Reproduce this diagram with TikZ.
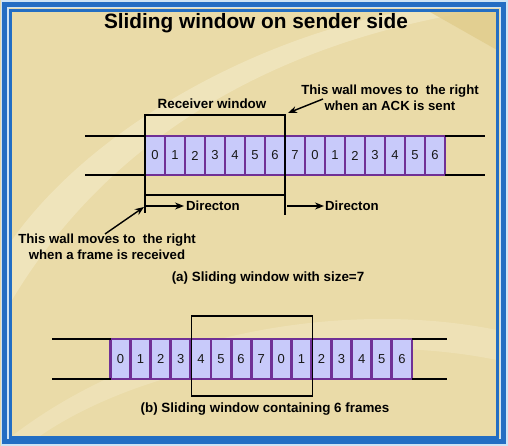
\documentclass[tikz,border=0pt]{standalone}
\usepackage{fontspec}
\setmainfont{Liberation Sans}
\usetikzlibrary{arrows.meta}
\definecolor{bg}{RGB}{234,219,168}
\definecolor{bglight}{RGB}{242,232,196}
\definecolor{bgdark}{RGB}{224,204,140}
\definecolor{frameblue}{RGB}{35,110,195}
\definecolor{framelight}{RGB}{205,228,245}
\definecolor{cellfill}{RGB}{200,202,250}
\definecolor{cellborder}{RGB}{112,48,150}
\begin{document}
\begin{tikzpicture}[x=1pt,y=-1pt,
  cell/.style={draw=cellborder, line width=2.8pt, fill=cellfill, minimum width=20pt,
    minimum height=39pt, inner sep=0pt, outer sep=0pt, font=\fontsize{13}{13}\selectfont,
    text=black!90, anchor=north west},
  win/.style={draw=black, line width=1.4pt, inner sep=0pt, outer sep=0pt, anchor=north west},
  rail/.style={line width=1.5pt},
  lbl/.style={font=\bfseries\fontsize{13.2}{16}\selectfont, align=center, inner sep=0pt},
  captxt/.style={font=\bfseries\fontsize{13.4}{16}\selectfont, inner sep=0pt},
  arr/.style={line width=1.4pt, -{Stealth[length=9pt,width=7pt]}}
]
\useasboundingbox (0,0) rectangle (508,446);
% background
\fill[bg] (0,0) rectangle (508,446);
\fill[bglight, opacity=0.7] (12,300) .. controls (120,120) and (300,40) .. (470,12)
  -- (400,12) .. controls (250,40) and (90,130) .. (12,240) -- cycle;
\fill[bglight, opacity=0.5] (12,436) .. controls (150,330) and (350,300) .. (497,330)
  -- (497,360) .. controls (350,330) and (150,360) .. (40,436) -- cycle;
\fill[bgdark, opacity=0.8] (430,12) -- (497,12) -- (497,50) -- cycle;
% frame
\draw[framelight, line width=8pt] (4.5,4.5) rectangle (503.5,441.5);
\draw[frameblue, line width=4.5pt] (4.5,4.5) rectangle (503.5,441.5);
\draw[frameblue, line width=2.6pt] (10.5,10.5) rectangle (497.5,437.5);

% title
\node[font=\bfseries\fontsize{20.8}{24}\selectfont, inner sep=0pt] (title) at (256,23) {Sliding window on sender side};

% ---------- part (a) ----------
\foreach \d [count=\i from 0] in {0,1,2,3,4,5,6,7,0,1,2,3,4,5,6}
  \node[cell] (a\i) at (145+20*\i,136) {\d};
\draw[rail] (85,136) coordinate (al1) -- (a0.north west);
\draw[rail] (85,175) coordinate (al2) -- (a0.south west);
\draw[rail] (a14.north east) -- (485,136) coordinate (ar1);
\draw[rail] (a14.south east) -- (485,175) coordinate (ar2);

\node[win, minimum width=140pt, minimum height=80pt] (wa) at (145,115) {};
\draw[rail] (wa.south west) -- ++(0,18) coordinate (wal);
\draw[rail] (wa.south east) -- ++(0,20) coordinate (war);

\coordinate (d1s) at (146,206);
\coordinate (d1e) at (184,206);
\draw[arr] (d1s) -- (d1e);
\node[lbl, anchor=west] (dir1) at (186,206) {Directon};
\coordinate (d2s) at (287,206);
\coordinate (d2e) at (324,206);
\draw[arr] (d2s) -- (d2e);
\node[lbl, anchor=west] (dir2) at (325,206) {Directon};

\node[captxt] (recv) at (212,104) {Receiver window};
\node[lbl] (ack) at (390,98) {This wall moves to\ \ the right\\when an ACK is sent};
\coordinate (ackfrom) at (323,99);
\coordinate (ackto) at (288,113);
\draw[arr] (ackfrom) -- (ackto);

\node[lbl] (frm) at (107,247) {This wall moves to\ \ the right\\when a frame is received};
\coordinate (frmfrom) at (105,234);
\coordinate (frmto) at (144,207);
\draw[arr] (frmfrom) -- (frmto);

\node[captxt] (capa) at (268,278) {(a) Sliding window with size=7};

% ---------- part (b) ----------
\foreach \d [count=\i from 0] in {0,1,2,3,4,5,6,7,0,1,2,3,4,5,6}
  \node[cell, minimum height=40pt] (b\i) at (110.5+20.1*\i,339) {\d};
\draw[rail] (52,339) coordinate (bl1) -- (b0.north west);
\draw[rail] (52,379) coordinate (bl2) -- (b0.south west);
\draw[rail] (b14.north east) -- (447,339) coordinate (br1);
\draw[rail] (b14.south east) -- (447,379) coordinate (br2);

\node[win, minimum width=121pt, minimum height=80pt] (wb) at (191.5,316) {};

\node[captxt] (capb) at (265,409) {(b) Sliding window containing 6 frames};
\end{tikzpicture}
\end{document}
